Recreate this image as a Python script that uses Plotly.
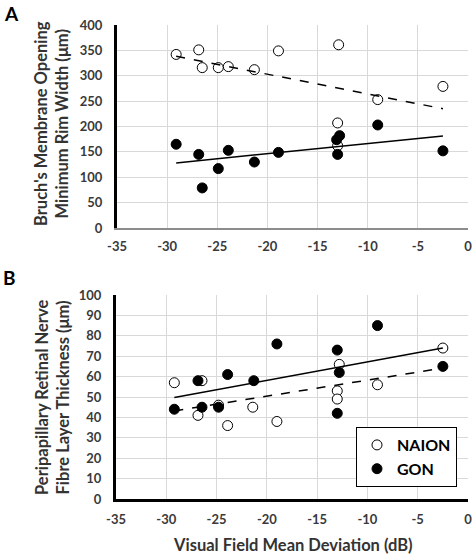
import numpy as np
import plotly.graph_objects as go

# visual field mean deviation (dB)
md_naion = [-29.1, -26.85, -26.5, -24.9, -23.9, -21.3, -18.9, -12.9, -13.0, -13.0, -9.0, -2.5]
md_gon = [-29.1, -26.85, -26.5, -24.9, -23.9, -21.3, -18.9, -13.0, -13.1, -12.8, -9.0, -2.5]

# panel A: BMO minimum rim width (um)
bmo_naion = [342, 351, 316, 316, 318, 312, 349, 361, 207, 162, 253, 279]
bmo_gon = [165, 145, 79, 117, 153, 130, 149, 145, 174, 182, 203, 152]

# panel B: pRNFL thickness (um)
md_naion_b = [-29.2, -26.85, -26.45, -24.8, -23.9, -21.4, -19.0, -12.8, -13.0, -13.0, -9.0, -2.5]
md_gon_b = [-29.2, -26.85, -26.45, -24.8, -23.9, -21.3, -19.0, -13.0, -12.8, -13.0, -9.0, -2.5]
rnfl_naion = [57, 41, 58, 46, 36, 45, 38, 66, 53, 49, 56, 74]
rnfl_gon = [44, 58, 45, 45, 61, 58, 76, 73, 62, 42, 85, 65]

x_ticks = [-35, -30, -25, -20, -15, -10, -5, 0]
x_labels = [str(v) for v in x_ticks]

FONT = "Lato"
TICK_COL = "#3a3a3a"
W, H = 474, 555


def trend(x, y):
    k, b = np.polyfit(x, y, 1)
    xs = np.array([min(x), max(x)])
    return xs, k * xs + b


fig = go.Figure()


def add_group(x, y, xa, ya, filled, name, dash, legend):
    fig.add_trace(go.Scatter(
        x=x, y=y, mode="markers", name=name, xaxis=xa, yaxis=ya,
        showlegend=legend,
        marker=dict(size=10, color="black" if filled else "white",
                    line=dict(color="black", width=1))))
    tx, ty = trend(x, y)
    fig.add_trace(go.Scatter(
        x=tx, y=ty, mode="lines", xaxis=xa, yaxis=ya, showlegend=False,
        line=dict(color="black", width=1.5, dash=dash), hoverinfo="skip"))


add_group(md_naion, bmo_naion, "x", "y", False, "NAION", "dash", False)
add_group(md_gon, bmo_gon, "x", "y", True, "GON", "solid", False)
add_group(md_naion_b, rnfl_naion, "x2", "y2", False, "NAION", "dash", True)
add_group(md_gon_b, rnfl_gon, "x2", "y2", True, "GON", "solid", True)

tickfont = dict(family=FONT, size=13, color=TICK_COL, weight="bold")
xcommon = dict(range=[-35, 0], tickvals=x_ticks, ticktext=x_labels, showgrid=True,
               gridcolor="#d9d9d9", gridwidth=1, zeroline=False, showline=True,
               ticks="", automargin=False, tickfont=tickfont, ticklabelstandoff=6,
               ticklabeloverflow="allow")
ycommon = dict(showgrid=True, gridcolor="#d9d9d9", gridwidth=1, zeroline=False,
               showline=True, linecolor="black", linewidth=3, ticks="",
               automargin=False, tickfont=tickfont, ticklabelstandoff=9)

fig.update_layout(
    width=W, height=H,
    margin=dict(l=0, r=0, t=0, b=0),
    plot_bgcolor="white", paper_bgcolor="white",
    font=dict(family=FONT),
    xaxis=dict(domain=[117 / W, 468 / W], anchor="y", linecolor="#8c8c8c",
               linewidth=1.5, **xcommon),
    yaxis=dict(domain=[1 - 228 / H, 1 - 25 / H], anchor="x", range=[0, 400], dtick=50, **ycommon),
    xaxis2=dict(domain=[116 / W, 468 / W], anchor="y2", linecolor="black",
                linewidth=3, **xcommon),
    yaxis2=dict(domain=[1 - 499 / H, 1 - 295 / H], anchor="x2", range=[0, 100], dtick=10, **ycommon),
    legend=dict(x=457 / W, y=1 - 487 / H, xanchor="right", yanchor="bottom",
                bordercolor="black", borderwidth=1, bgcolor="white",
                font=dict(family=FONT, size=16, color="black", weight="bold"),
                itemwidth=30, tracegroupgap=0),
    showlegend=True,
)


def label(text, xpx, ypx, font, angle=0):
    fig.add_annotation(text=text, x=xpx / W, y=1 - ypx / H, xref="paper", yref="paper",
                       xanchor="center", yanchor="middle", textangle=angle,
                       showarrow=False, font=font)


title_font = dict(family=FONT, size=16.5, color="#333333", weight="bold")
label("Bruch's Membrane Opening<br>Minimum Rim Width (\u03bcm)", 52, 124, title_font, -90)
label("Peripapillary Retinal Nerve<br>Fibre Layer Thickness (\u03bcm)", 52, 398, title_font, -90)
label("Visual Field Mean Deviation (dB)", 293, 545, title_font)
big = dict(family=FONT, size=19, color="black", weight="bold")
label("A", 11, 14, big)
label("B", 9, 277, big)

fig.write_html("out.html", config={"displayModeBar": False},
               post_script="document.body.style.margin='0';")
